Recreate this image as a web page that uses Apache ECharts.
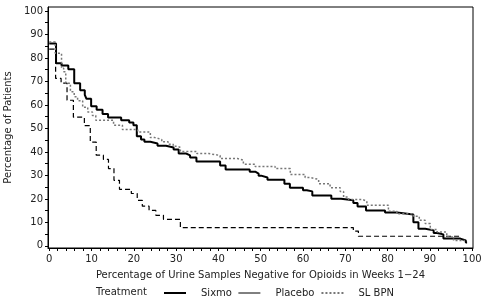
<!DOCTYPE html>
<html>
<head>
<meta charset="utf-8">
<script src="https://cdn.jsdelivr.net/npm/echarts@6/dist/echarts.min.js"></script>
<style>html,body{margin:0;padding:0;background:#fff}#c{width:489px;height:306px}</style>
</head>
<body>
<div id="c"></div>
<script>
// Step-curve breakpoints: x = % negative samples where the level starts, y = % of patients
const sixmoX = [0,1.6,2.9,4.5,5.9,7.3,8.4,8.8,9.9,11.2,12.6,13.9,17.0,18.9,19.9,20.7,21.7,22.5,23.9,25.6,27.6,29.4,30.6,32.4,33.3,34.8,40.4,41.7,47.4,48.7,49.5,50.1,51.6,55.6,56.9,60.0,60.9,62.2,66.7,69.0,71.9,72.9,74.9,79.4,82.2,86.1,87.3,88.9,90.9,91.7,93.2,97.2,98.5,98.8];
const sixmoY = [86.2,77.7,76.8,75.2,69.2,66.3,64.3,62.6,59.4,58.0,56.1,54.7,53.5,52.5,51.4,46.7,45.3,44.3,43.6,42.6,41.9,41.0,39.3,38.5,37.6,35.9,34.2,32.5,31.6,30.8,29.9,29.1,28.2,26.5,24.8,23.7,23.2,21.5,20.1,19.4,18.3,16.8,15.1,14.2,13.4,10.1,7.3,6.6,5.5,4.9,3.1,2.3,1.4,1.4];

const placeboX = [0,1.5,2.8,4.2,5.7,8.3,9.7,11.1,12.8,14.0,15.3,16.6,19.4,20.8,22.0,23.6,25.2,27.0,31.0,71.9,73.1,97.5];
const placeboY = [83.8,71.3,69.3,62.0,54.8,51.2,44.2,38.6,36.8,32.9,27.9,24.1,22.3,19.4,16.9,15.1,13.0,11.3,7.8,6.3,4.1,4.1];

const slbpnX = [0,1.4,2.9,3.4,3.9,5.0,5.9,6.7,7.9,9.1,10.2,11.0,15.2,17.3,20.9,23.9,25.0,26.6,28.1,29.3,30.4,31.0,34.9,37.7,40.4,44.5,45.9,48.7,53.4,57.0,60.5,61.7,63.7,66.4,68.8,69.6,70.8,73.9,75.1,80.2,82.2,86.1,87.5,88.9,90.1,91.7,94.0,95.6,98.3];
const slbpnY = [86.8,82.0,75.6,74.1,69.2,65.6,63.5,61.8,59.0,57.0,55.5,53.5,51.4,49.5,48.5,46.1,45.3,44.3,43.3,42.4,41.9,40.2,39.3,38.5,37.2,36.5,34.8,33.8,32.9,30.4,29.1,28.3,26.5,24.8,23.2,20.8,19.8,19.1,17.3,14.7,13.7,12.6,10.9,9.5,7.0,5.9,3.8,2.3,2.3];

const seriesNames = ['Sixmo','Placebo','SL BPN'];
const xLabelTicks = [0,10,20,30,40,50,60,70,80,90,100];
const yLabelTicks = [0,10,20,30,40,50,60,70,80,90,100];
const xTickValues = []; for (let v = 0; v <= 100; v += 2) xTickValues.push(v);
const yTickValues = []; for (let v = 0; v <= 100; v += 5) yTickValues.push(v);

const zip = (xs, ys) => xs.map((x, i) => [x, ys[i]]);
const font = 'DejaVu Sans';

const chart = echarts.init(document.getElementById('c'), null, {renderer: 'canvas'});
chart.setOption({
  animation: false,
  backgroundColor: '#fff',
  textStyle: {fontFamily: font},
  grid: {left: 48, right: 16, top: 7, bottom: 58, show: true, borderColor: '#000', borderWidth: 1,
         containLabel: false, outerBoundsMode: 'none'},
  xAxis: {
    type: 'value', min: -0.3, max: 100.2,
    axisLine: {show: true, onZero: false, lineStyle: {color: '#000', width: 1}},
    axisTick: {show: true, length: 3, lineStyle: {color: '#000'}, customValues: xTickValues},
    axisLabel: {customValues: xLabelTicks, color: '#222', fontSize: 10, fontFamily: font, margin: 6},
    splitLine: {show: false},
    name: 'Percentage of Urine Samples Negative for Opioids in Weeks 1\u221224',
    nameLocation: 'middle', nameGap: 22,
    nameTextStyle: {color: '#222', fontSize: 10, fontFamily: font}
  },
  yAxis: {
    type: 'value', min: -0.9, max: 101.7,
    axisLine: {show: true, onZero: false, lineStyle: {color: '#000', width: 1}},
    axisTick: {show: true, length: 3, lineStyle: {color: '#000'}, customValues: yTickValues},
    axisLabel: {customValues: yLabelTicks, color: '#222', fontSize: 10, fontFamily: font, margin: 5},
    splitLine: {show: false},
    name: 'Percentage of Patients',
    nameLocation: 'middle', nameGap: 32, nameRotate: 90,
    nameTextStyle: {color: '#222', fontSize: 10, fontFamily: font}
  },
  legend: {
    show: true, left: 158, top: 283, itemWidth: 22, itemHeight: 10, itemGap: 6,
    itemStyle: {opacity: 0},
    formatter: (name) => '{p|' + name + '}',
    textStyle: {color: '#222', fontSize: 10, fontFamily: font,
      rich: {p: {color: '#222', fontSize: 10, fontFamily: font, padding: [0, 0, 0, 10]}}},
    data: [
      {name: seriesNames[0]},
      {name: seriesNames[1], lineStyle: {type: 'solid', width: 1}},
      {name: seriesNames[2]}
    ]
  },
  graphic: [{type: 'text', left: 96, top: 287, style: {text: 'Treatment', fill: '#222', font: '10px "DejaVu Sans"'}}],
  series: [
    {name: seriesNames[0], type: 'line', step: 'end', symbol: 'none', data: zip(sixmoX, sixmoY),
     lineStyle: {color: '#000', width: 2}, itemStyle: {color: '#000'}},
    {name: seriesNames[1], type: 'line', step: 'end', symbol: 'none', data: zip(placeboX, placeboY),
     lineStyle: {color: '#000', width: 1.2, type: [5, 3]}, itemStyle: {color: '#000'}},
    {name: seriesNames[2], type: 'line', step: 'end', symbol: 'none', data: zip(slbpnX, slbpnY),
     lineStyle: {color: '#777', width: 1.5, type: [2, 2]}, itemStyle: {color: '#777'}}
  ]
});
</script>
</body>
</html>
